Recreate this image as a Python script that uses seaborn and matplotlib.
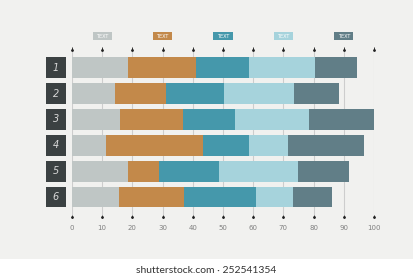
import matplotlib
matplotlib.use("Agg")
import matplotlib.pyplot as plt
import matplotlib.transforms as mtransforms
from matplotlib.patches import Rectangle
import numpy as np
import pandas as pd
import seaborn as sns

# ---- data ----
rows = ["1", "2", "3", "4", "5", "6"]
series_names = ["TEXT", "TEXT", "TEXT", "TEXT", "TEXT"]
s1 = [18.4, 14.3, 15.9, 11.2, 18.4, 15.4]
s2 = [22.7, 16.8, 21.0, 32.2, 10.4, 21.7]
s3 = [17.6, 19.2, 17.2, 15.2, 19.9, 23.8]
s4 = [21.9, 23.2, 24.3, 13.0, 26.1, 12.4]
s5 = [13.7, 14.8, 21.6, 25.1, 17.0, 12.8]
legend_pos = [10, 30, 50, 70, 90]
xticks = [0, 10, 20, 30, 40, 50, 60, 70, 80, 90, 100]

colors = ["#bfc6c5", "#c3894a", "#4598ab", "#a6d3dc", "#617e87"]
bg = "#f1f1ef"

sns.set_theme(style="white")
plt.rcParams["font.family"] = ["DejaVu Sans"]

fig = plt.figure(figsize=(4.13, 2.80), dpi=100)
fig.patch.set_facecolor(bg)

W, H = 413.0, 280.0
left_px, right_px, top_px, bot_px = 72, 374, 50, 215
ax = fig.add_axes([left_px / W, 1 - bot_px / H, (right_px - left_px) / W, (bot_px - top_px) / H])
ax.set_facecolor(bg)

series = [s1, s2, s3, s4, s5]
cum = np.cumsum(np.array(series), axis=0)
df = pd.DataFrame({"row": rows})
for i in range(len(series)):
    df[f"c{i}"] = cum[i]

# draw from the longest cumulative to the shortest so segments stack
for i in reversed(range(len(series))):
    sns.barplot(data=df, x=f"c{i}", y="row", orient="h", color=colors[i],
                width=0.8, saturation=1, ax=ax, linewidth=0, edgecolor="none",
                zorder=3 + (len(series) - i) * 0.01)

ax.set_xlim(0, 100)
ax.set_ylim(5.69, -0.68)
ax.set_xlabel("")
ax.set_ylabel("")
for sp in ax.spines.values():
    sp.set_visible(False)

ax.set_xticks(xticks)
ax.set_xticklabels([str(t) for t in xticks])
ax.tick_params(axis="x", bottom=True, top=True, length=2.5, width=0.7, color="#333333",
               direction="out", labelsize=5, labelcolor="#808080", pad=5)
ax.set_yticks([])
ax.grid(axis="x", color="#cdcdcd", linewidth=0.8, zorder=0)
ax.set_axisbelow(True)

# dots at tick ends
trans_top = mtransforms.blended_transform_factory(ax.transData, ax.transAxes)
for t in xticks:
    ax.plot([t], [1.0], marker="o", ms=1.0, color="#222222",
            transform=trans_top, clip_on=False)
    ax.plot([t], [-2.0 / (bot_px - top_px)], marker="o", ms=1.0, color="#222222",
            transform=trans_top, clip_on=False)

# row number boxes
for i, r in enumerate(rows):
    ax.add_patch(Rectangle((-8.7, i - 0.4), 6.7, 0.8, facecolor="#3b4142",
                           edgecolor="none", clip_on=False, zorder=4))
    ax.text(-5.35, i, r, ha="center", va="center", color="#d8d8d8",
            fontsize=7, fontstyle="italic", clip_on=False, zorder=5)

# series label boxes on top
box_w = 6.3
box_h = 8 / (bot_px - top_px)
ycen = 1 + 14 / (bot_px - top_px)
for p, c, name in zip(legend_pos, colors, series_names):
    ax.add_patch(Rectangle((p - box_w / 2, ycen - box_h / 2), box_w, box_h,
                           facecolor=c, edgecolor="none", transform=trans_top,
                           clip_on=False, zorder=4))
    ax.text(p, ycen, name, ha="center", va="center", color="white", fontsize=3.6,
            transform=trans_top, clip_on=False, zorder=5)

# watermark strip
fig.patches.append(Rectangle((0, 0), 1, 21 / H, transform=fig.transFigure,
                             facecolor="white", edgecolor="none", zorder=0))
fig.text(0.5, 9.5 / H, "shutterstock.com \u00b7 252541354", ha="center", va="center",
         fontsize=7.5, color="#333333", family=["Lato", "DejaVu Sans"])

fig.savefig("out.png", dpi=100, facecolor=fig.get_facecolor())
